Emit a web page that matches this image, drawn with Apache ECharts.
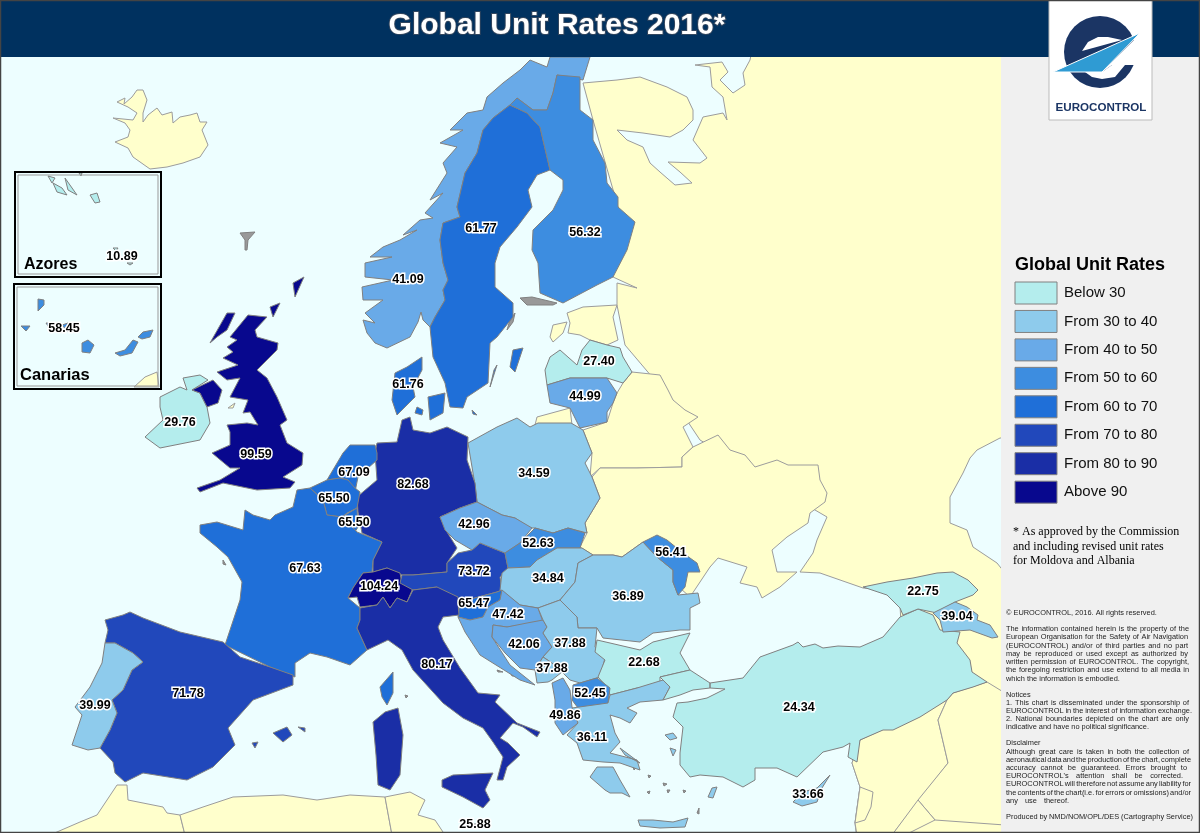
<!DOCTYPE html>
<html>
<head>
<meta charset="utf-8">
<title>Global Unit Rates 2016</title>
<script src="https://cdn.jsdelivr.net/npm/echarts@6/dist/echarts.min.js"></script>
<style>
  html, body { margin: 0; padding: 0; background: #edfeff; }
  #chart { width: 1200px; height: 833px; }
</style>
</head>
<body>
<div id="chart"></div>
<script>
// =====================
// data
// =====================

const zoneNames = [
  "Azores", "Canarias", "Ireland", "United Kingdom", "Norway", "Sweden", "Finland", "Denmark",
  "Latvia", "Lithuania", "Poland", "Germany", "Netherlands", "Belgium", "Luxembourg", "France",
  "Switzerland", "Austria", "Czech Republic", "Slovakia", "Hungary", "Romania", "Moldova",
  "Slovenia", "Croatia", "Bosnia", "Serbia", "Montenegro", "Bulgaria", "Macedonia", "Albania",
  "Greece", "Turkey", "Georgia", "Armenia", "Cyprus", "Italy", "Spain", "Portugal", "Malta"
];
const zoneRates = [
  10.89, 58.45, 29.76, 99.59, 41.09, 61.77, 56.32, 61.76,
  27.40, 44.99, 34.59, 82.68, 67.09, 65.50, 65.50, 67.63,
  104.24, 73.72, 42.96, 52.63, 34.84, 36.89, 56.41,
  65.47, 47.42, 42.06, 37.88, 37.88, 22.68, 52.45, 49.86,
  36.11, 24.34, 22.75, 39.04, 33.66, 80.17, 71.78, 39.99, 25.88
];

const bandLabels = ["Below 30", "From 30 to 40", "From 40 to 50", "From 50 to 60", "From 60 to 70", "From 70 to 80", "From 80 to 90", "Above 90"];
const bandLimits = [0, 30, 40, 50, 60, 70, 80, 90, 200];
const bandColors = ["#b4eded", "#8ecbec", "#69aae8", "#3d8de0", "#1f6fd8", "#2148bb", "#1a2ea6", "#08088e"];

const greyIslets = ["Faroe", "Aland", "Islets"];
const plainLand = ["Russia", "Belarus", "Ukraine", "Estonia", "Kaliningrad", "Syria", "Iraq", "Jordan", "Lebanon", "Iceland", "Isle of Man", "Morocco", "Algeria", "Tunisia", "Western Sahara"];

const footnoteLines = ["* As approved by the Commission", "and including revised unit rates", "for Moldova and Albania"];

// y, text, right edge when the line is justified
const noticeLines = [
  [613, "\u00a9 EUROCONTROL, 2016. All rights reserved.", 0],
  [629, "The information contained herein is the property of the", 1189],
  [637, "European Organisation for the Safety of Air Navigation", 1188],
  [646, "(EUROCONTROL) and/or of third parties and no part", 1188],
  [654, "may be reproduced or used except as authorized by", 1188],
  [662, "written permission of EUROCONTROL. The copyright,", 1189],
  [670, "the foregoing restriction and use extend to all media in", 1189],
  [679, "which the information is embodied.", 0],
  [695, "Notices", 0],
  [703, "1. This chart is disseminated under the sponsorship of", 1189],
  [711, "EUROCONTROL in the interest of information exchange.", 1192],
  [719, "2. National boundaries depicted on the chart are only", 1189],
  [727, "indicative and have no political significance.", 0],
  [743, "Disclaimer", 0],
  [752, "Although great care is taken in both the collection of", 1189],
  [760, "aeronautical data and the production of the chart, complete", 1191],
  [768, "accuracy cannot be guaranteed. Errors brought to", 1187],
  [776, "EUROCONTROL's attention shall be corrected.", 1183],
  [784, "EUROCONTROL will therefore not assume any liability for", 1191],
  [793, "the contents of the chart(i.e. for errors or omissions) and/or", 1191],
  [801, "any use thereof.", 1069],
  [817, "Produced by NMD/NOM/OPL/DES (Cartography Service)", 1193]
];

// =====================
// map outlines (map units, traced by hand), land without a rate comes first
// =====================

const outlines = [
  ["Russia", null, [[[583,83],[617,80],[640,77],[667,87],[687,97],[693,110],[693,120],[683,130],[670,137],[643,133],[617,130],[627,140],[643,147],[650,163],[660,172],[675,185],[692,183],[680,172],[668,162],[700,163],[707,158],[693,140],[703,117],[723,113],[727,120],[723,97],[712,87],[710,67],[695,65],[722,62],[728,72],[720,80],[733,93],[745,85],[743,73],[750,60],[752,50],[1005,50],[1005,438],[1000,438],[977,450],[970,458],[963,473],[950,497],[950,523],[967,530],[973,547],[997,563],[1005,573],[1005,840],[857,840],[855,823],[860,787],[852,763],[860,740],[905,700],[900,605],[885,590],[863,588],[820,573],[800,572],[813,553],[817,540],[827,517],[815,510],[700,440],[680,410],[625,345],[617,305],[617,283],[637,288],[613,277],[618,207],[593,120]]]],
  ["Belarus", null, [[[632,372],[660,375],[668,390],[673,400],[685,410],[698,417],[683,427],[693,447],[682,457],[682,467],[637,468],[600,468],[590,477],[592,453],[583,430],[607,422],[613,403],[617,393],[623,383]]]],
  ["Ukraine", null, [[[682,467],[682,457],[693,447],[718,435],[730,450],[745,455],[755,467],[777,460],[788,465],[818,465],[820,480],[827,493],[825,502],[810,513],[808,523],[787,537],[772,550],[777,572],[797,572],[780,587],[762,598],[757,587],[740,583],[747,567],[718,558],[710,567],[698,585],[690,597],[660,570],[643,542],[622,557],[613,555],[593,555],[580,547],[587,533],[585,523],[600,498],[592,477],[600,468],[637,468]]]],
  ["Estonia", null, [[[567,313],[583,307],[617,305],[613,317],[618,340],[607,345],[590,340],[580,335],[568,333],[570,323]], [[553,325],[567,322],[563,333],[553,342],[550,337]]]],
  ["Kaliningrad", null, [[[537,417],[570,408],[572,425],[535,425]]]],
  ["Syria", null, [[[947,700],[938,720],[948,763],[892,835],[857,835],[855,823],[860,787],[852,763],[860,740]]]],
  ["Iraq", null, [[[987,682],[1005,693],[1005,825],[935,820],[918,800],[948,763],[938,720],[947,700],[953,693]]]],
  ["Jordan", null, [[[918,800],[935,820],[905,835],[892,835]]]],
  ["Lebanon", null, [[[860,787],[873,792],[871,807],[865,820],[855,823]]]],
  ["Iceland", null, [[[117,102],[125,98],[124,104],[132,97],[137,90],[143,90],[147,100],[143,113],[143,122],[148,115],[157,108],[162,115],[172,112],[173,123],[180,117],[190,115],[197,113],[200,122],[207,122],[202,130],[208,145],[200,157],[183,163],[167,167],[150,169],[133,157],[128,148],[115,142],[128,137],[130,130],[125,123],[113,118],[133,120],[137,113],[128,107]]]],
  ["Faroe", null, [[[240,233],[255,232],[248,240],[247,250],[245,250],[245,240]]]],
  ["Aland", null, [[[520,298],[532,297],[557,303],[553,305],[527,305]], [[510,320],[515,313],[513,322],[507,330]]]],
  ["Islets", null, [[[648,775],[651,776],[649,778]], [[663,783],[667,784],[664,786]], [[647,792],[650,791],[649,794]], [[667,790],[670,790],[668,793]], [[683,790],[686,791],[684,793]], [[697,813],[699,808],[699,814]], [[633,767],[636,768],[634,770]], [[497,670],[503,672],[498,672]], [[510,672],[517,676],[512,676]], [[295,508],[298,506],[297,510]], [[238,530],[241,532],[238,533]], [[223,560],[226,565],[223,564]], [[405,695],[408,696],[406,698]], [[590,745],[593,748],[590,750]]]],
  ["Isle of Man", null, [[[228,408],[235,403],[233,408]]]],
  ["Morocco", null, [[[50,835],[80,822],[97,815],[117,785],[127,785],[128,800],[163,807],[167,813],[180,815],[185,835]]]],
  ["Algeria", null, [[[180,815],[203,807],[233,797],[283,795],[317,800],[350,795],[385,797],[392,835],[185,835]]]],
  ["Tunisia", null, [[[385,797],[410,792],[425,800],[418,815],[435,820],[445,835],[392,835]]]],
  ["Western Sahara", null, [[[134,387],[145,377],[157,372],[159,387]]]],

  ["Azores", [122, 257], [[[53,183],[62,188],[67,195],[57,192]], [[48,176],[55,178],[52,183]], [[65,178],[77,195],[68,190]], [[90,195],[97,193],[100,202],[95,203]], [[79,173],[82,173],[81,176]], [[113,248],[118,248],[116,251]], [[127,263],[133,263],[130,265]]]],
  ["Canarias", [64, 329], [[[38,299],[44,300],[44,305],[38,311]], [[21,326],[30,326],[26,331]], [[46,323],[50,323],[50,329]], [[62,325],[68,323],[68,332]], [[82,343],[88,340],[94,345],[90,353],[82,352]], [[115,353],[125,350],[133,340],[138,342],[132,353],[120,356]], [[138,337],[143,332],[153,330],[150,337],[142,339]]]],
  ["Ireland", [180, 423], [[[160,397],[180,387],[187,390],[183,378],[200,375],[208,380],[192,390],[200,393],[207,407],[210,423],[200,440],[160,448],[145,437],[163,420],[160,407]]]],
  ["United Kingdom", [256, 455], [[[248,315],[267,317],[255,330],[257,337],[278,343],[277,350],[257,370],[267,378],[277,397],[287,420],[280,425],[287,443],[303,453],[302,465],[283,477],[295,482],[290,488],[257,490],[223,483],[200,492],[197,488],[220,480],[240,468],[230,468],[212,453],[230,445],[230,432],[227,425],[247,423],[258,425],[250,412],[243,413],[248,400],[230,397],[240,378],[227,380],[217,372],[238,365],[223,358],[233,352],[227,347],[237,340],[230,337]], [[210,343],[227,313],[235,313],[227,330],[217,337]], [[270,307],[280,303],[273,317]], [[293,283],[304,277],[295,297]], [[192,390],[213,380],[222,390],[218,403],[207,407],[200,393]]]],
  ["Norway", [408, 280], [[[387,348],[375,343],[367,333],[363,320],[375,323],[365,313],[383,300],[363,300],[362,287],[393,280],[365,277],[365,263],[392,257],[370,257],[383,247],[400,240],[417,230],[403,235],[420,220],[433,218],[425,213],[443,193],[430,200],[447,173],[443,163],[457,147],[440,143],[463,130],[450,130],[467,113],[483,110],[487,97],[503,83],[520,70],[530,60],[547,67],[550,57],[590,57],[583,80],[557,75],[553,93],[547,110],[533,110],[517,98],[510,105],[493,118],[483,130],[477,153],[465,173],[457,207],[460,217],[443,223],[440,240],[443,263],[448,280],[443,290],[445,300],[435,317],[430,327],[423,320],[421,312],[418,322],[410,337]]]],
  ["Sweden", [481, 229], [[[510,105],[527,113],[540,127],[543,140],[550,170],[537,175],[528,190],[532,207],[517,227],[500,247],[495,263],[495,287],[513,303],[513,317],[497,337],[490,343],[488,383],[467,397],[463,408],[450,407],[445,383],[433,357],[430,327],[435,317],[445,300],[443,290],[448,280],[443,263],[440,240],[443,223],[460,217],[457,207],[465,173],[477,153],[483,130],[493,118]], [[513,350],[523,348],[515,372],[510,367]], [[497,365],[490,387],[494,370]]]],
  ["Finland", [585, 233], [[[557,75],[580,77],[580,93],[580,110],[593,120],[593,140],[605,163],[607,183],[618,197],[618,207],[635,222],[627,250],[613,277],[597,285],[563,303],[540,293],[538,263],[532,250],[533,230],[553,210],[563,190],[563,180],[550,170],[543,140],[540,127],[527,113],[510,105],[517,98],[533,110],[547,110],[553,93]]]],
  ["Denmark", [408, 385], [[[422,357],[422,370],[413,387],[415,397],[397,415],[392,400],[395,373],[407,367]], [[417,407],[423,410],[422,415],[415,413]], [[428,397],[445,393],[443,413],[430,420]], [[472,410],[477,415],[473,414]]]],
  ["Latvia", [599, 362], [[[560,350],[577,365],[582,350],[590,340],[607,345],[620,348],[623,357],[632,372],[623,383],[607,378],[592,378],[570,378],[547,385],[545,370],[550,357]]]],
  ["Lithuania", [585, 397], [[[547,385],[570,378],[592,378],[607,378],[617,393],[613,403],[607,412],[607,422],[580,428],[570,408],[550,403]]]],
  ["Poland", [534, 474], [[[468,443],[497,427],[517,418],[530,427],[538,423],[571,423],[583,430],[592,453],[585,463],[592,477],[600,498],[585,523],[587,533],[568,528],[553,533],[535,528],[530,528],[515,518],[502,515],[477,502],[475,485],[472,467]]]],
  ["Germany", [413, 485], [[[377,443],[397,442],[402,420],[410,417],[413,430],[430,433],[447,427],[468,437],[467,460],[475,483],[477,502],[460,508],[440,517],[447,532],[457,548],[447,563],[447,572],[413,575],[402,575],[387,568],[373,572],[373,560],[382,542],[362,533],[358,512],[357,497],[377,480],[375,453]]]],
  ["Netherlands", [354, 473], [[[327,480],[343,453],[350,445],[375,445],[377,453],[377,460],[358,477],[355,492],[348,480],[340,478]]]],
  ["Belgium", [334, 499], [[[310,488],[327,480],[340,478],[348,480],[355,488],[360,492],[357,508],[347,513],[342,517],[327,515],[323,500]]]],
  ["Luxembourg", [354, 523], [[[342,517],[357,508],[358,527],[355,532],[343,525]]]],
  ["France", [305, 569], [[[200,525],[217,522],[243,530],[245,510],[253,515],[270,520],[275,515],[293,507],[297,490],[310,488],[323,500],[327,515],[342,517],[357,532],[382,542],[373,560],[372,572],[363,573],[353,588],[348,598],[360,608],[360,620],[357,628],[367,650],[350,665],[327,657],[310,653],[295,663],[295,677],[270,667],[225,645],[240,600],[242,582],[228,557],[217,547],[200,533]], [[380,687],[393,672],[393,693],[387,705],[382,697]]]],
  ["Switzerland", [379, 587], [[[363,573],[373,572],[387,568],[400,573],[402,583],[413,588],[407,602],[397,598],[390,608],[383,597],[377,605],[360,607],[357,597],[348,598],[353,588]]]],
  ["Austria", [474, 572], [[[472,550],[480,543],[505,553],[508,568],[500,577],[502,590],[497,592],[460,602],[440,592],[437,587],[413,590],[400,583],[402,575],[413,575],[447,572],[447,563],[458,553]]]],
  ["Czech Republic", [474, 525], [[[440,517],[460,508],[477,502],[502,515],[515,518],[532,528],[520,543],[505,553],[480,543],[472,550],[455,540],[445,530]]]],
  ["Slovakia", [538, 544], [[[505,553],[520,543],[535,528],[553,533],[568,528],[585,533],[580,548],[557,548],[537,560],[530,567],[508,568]]]],
  ["Hungary", [548, 579], [[[582,548],[593,555],[578,563],[575,582],[560,600],[538,608],[520,605],[500,590],[502,573],[508,568],[530,567],[537,560],[557,548]]]],
  ["Romania", [628, 597], [[[593,555],[613,555],[622,557],[643,542],[657,557],[673,570],[673,582],[678,595],[698,593],[700,603],[690,608],[690,630],[680,630],[653,633],[640,642],[603,638],[597,628],[578,628],[577,617],[560,600],[575,582],[578,563]]]],
  ["Moldova", [671, 553], [[[643,542],[657,535],[667,540],[683,553],[697,563],[700,572],[688,572],[685,587],[678,595],[673,582],[673,570],[657,557]]]],
  ["Slovenia", [474, 604], [[[497,592],[502,590],[500,600],[488,607],[483,617],[470,620],[458,617],[460,602]]]],
  ["Croatia", [508, 615], [[[458,617],[470,620],[483,617],[488,607],[500,600],[502,590],[520,605],[538,608],[543,622],[507,627],[493,625],[492,637],[510,665],[535,685],[520,680],[480,655],[465,632]]]],
  ["Bosnia", [524, 645], [[[493,625],[507,627],[527,623],[543,620],[547,627],[543,633],[552,647],[543,657],[535,670],[520,668],[505,653],[492,637]]]],
  ["Serbia", [570, 644], [[[538,608],[560,600],[577,617],[578,628],[597,628],[595,647],[605,658],[600,677],[580,683],[570,680],[562,672],[552,663],[543,657],[552,647],[543,633],[547,627],[543,620]]]],
  ["Montenegro", [552, 669], [[[535,670],[543,657],[552,663],[562,672],[552,680],[548,682],[537,683]]]],
  ["Bulgaria", [644, 663], [[[597,640],[610,643],[640,650],[653,642],[690,633],[680,653],[690,670],[660,677],[660,688],[637,688],[610,695],[608,688],[598,677],[605,660],[595,652]]]],
  ["Macedonia", [590, 694], [[[573,685],[597,678],[610,688],[608,703],[593,708],[578,708],[572,700]]]],
  ["Albania", [565, 716], [[[552,683],[563,678],[570,690],[572,707],[578,723],[563,735],[555,723],[555,700]]]],
  ["Greece", [592, 738], [[[578,723],[572,708],[608,703],[610,695],[637,688],[663,680],[670,687],[663,700],[640,702],[627,708],[637,713],[630,723],[620,718],[610,715],[615,733],[620,742],[610,753],[637,760],[640,770],[620,763],[603,762],[583,760],[577,743],[567,735]], [[590,777],[597,767],[613,767],[620,780],[630,797],[622,793],[610,793],[605,790]], [[638,820],[653,820],[673,822],[688,818],[685,827],[660,828],[640,826]], [[665,735],[673,733],[677,738],[670,740]], [[620,748],[640,763],[625,755]], [[712,788],[717,787],[713,798],[708,797]], [[670,748],[676,750],[673,756]], [[682,767],[690,765],[688,770]]]],
  ["Turkey", [799, 708], [[[710,683],[743,678],[760,657],[793,645],[798,642],[803,647],[815,644],[823,648],[838,646],[860,647],[883,637],[900,617],[918,609],[933,615],[940,630],[960,632],[957,643],[970,660],[972,672],[987,682],[973,687],[953,693],[947,700],[920,717],[893,730],[883,730],[860,740],[857,762],[848,757],[850,743],[843,747],[823,752],[797,777],[777,768],[755,768],[755,780],[743,787],[723,777],[700,775],[690,777],[680,765],[680,753],[683,727],[673,717],[677,703],[688,702],[707,698],[725,689],[710,688]], [[690,670],[710,683],[710,688],[693,690],[680,695],[663,700],[670,687],[660,677]]]],
  ["Georgia", [923, 592], [[[863,587],[887,582],[913,578],[937,573],[953,572],[968,580],[978,590],[973,595],[955,602],[937,613],[918,609],[903,615],[900,608],[887,595]]]],
  ["Armenia", [957, 617], [[[955,602],[967,607],[978,615],[977,620],[990,625],[998,637],[992,638],[970,630],[943,632],[940,620],[933,613]]]],
  ["Cyprus", [808, 795], [[[793,802],[803,792],[817,788],[830,775],[822,788],[817,802],[802,806]]]],
  ["Italy", [437, 665], [[[360,608],[377,605],[383,597],[390,608],[397,598],[407,602],[413,590],[437,587],[458,597],[458,603],[459,615],[443,617],[438,627],[443,640],[460,668],[478,693],[500,695],[495,702],[517,723],[540,732],[537,737],[523,727],[513,723],[500,738],[508,743],[520,755],[507,767],[503,780],[497,780],[503,757],[493,742],[483,728],[463,718],[443,703],[413,670],[402,650],[388,640],[367,650],[357,628],[360,620]], [[442,780],[453,775],[493,773],[485,790],[490,800],[483,808],[463,797],[442,787]], [[373,722],[385,712],[398,708],[403,735],[400,775],[390,790],[378,785],[376,755]]]],
  ["Spain", [188, 694], [[[105,620],[123,615],[130,612],[143,618],[180,632],[223,642],[240,657],[270,667],[293,675],[293,685],[253,700],[228,728],[235,745],[213,767],[187,780],[143,773],[125,782],[115,773],[113,762],[100,748],[110,730],[117,713],[112,700],[123,690],[132,670],[143,662],[133,653],[115,643],[105,643],[108,630]], [[273,733],[287,727],[292,735],[283,742]], [[298,727],[305,728],[305,732]], [[252,743],[258,742],[255,748]]]],
  ["Portugal", [95, 706], [[[105,643],[115,643],[133,653],[143,662],[132,670],[123,690],[112,700],[117,713],[110,730],[100,748],[88,750],[72,745],[82,715],[75,707],[90,687],[102,663]]]],
  ["Malta", [475, 825], [[[474,824],[476,824],[476,826]]]]
];

// =====================
// map registration
// =====================

const europe = {
  type: "FeatureCollection",
  features: outlines.map(([name, labelAt, rings]) => ({
    type: "Feature",
    properties: labelAt ? { name: name, cp: labelAt } : { name: name },
    geometry: { type: "MultiPolygon", coordinates: rings.map((ring) => [ring]) }
  }))
};
echarts.registerMap("europe", europe);

// =====================
// page furniture
// =====================

const NOTICE_FONT = "7.4px 'Liberation Sans'";
const measure = document.createElement("canvas").getContext("2d");

function staticText(x, y, text, font, color, extra, z) {
  return {
    type: "text",
    z: z || 20,
    silent: true,
    style: Object.assign(
      { x: x, y: y, text: text, font: font, fill: color, verticalAlign: "middle" },
      extra || {}
    )
  };
}

// justified lines in the notice block are set word by word
function buildNoticeLine([y, line, rightEdge]) {
  if (!rightEdge) {
    return [staticText(1006, y, line, NOTICE_FONT, "#222")];
  }
  measure.font = NOTICE_FONT;
  const words = line.split(" ");
  const used = words.reduce((sum, word) => sum + measure.measureText(word).width, 0);
  const gap = (rightEdge - 1006 - used) / (words.length - 1);
  let x = 1006;
  return words.map((word) => {
    const item = staticText(x, y, word, NOTICE_FONT, "#222");
    x += measure.measureText(word).width + gap;
    return item;
  });
}

function buildInset(x, y, w, h) {
  return [
    { type: "rect", z: 20, silent: true, shape: { x: x, y: y, width: w, height: h }, style: { fill: "none", stroke: "#000", lineWidth: 2 } },
    { type: "rect", z: 20, silent: true, shape: { x: x + 3, y: y + 3, width: w - 6, height: h - 6 }, style: { fill: "none", stroke: "#999", lineWidth: 1 } }
  ];
}

function logoPolygon(points, z, style) {
  return { type: "polygon", z: z, silent: true, shape: { points: points }, style: style };
}

function buildLogo() {
  const navy = "#1b3564";
  const white = { fill: "#fff" };
  return [
    { type: "rect", z: 21, silent: true, shape: { x: 1049, y: 0, width: 103, height: 120 }, style: { fill: "#fff", stroke: "#bbb", lineWidth: 1 } },
    { type: "circle", z: 22, silent: true, shape: { cx: 1100, cy: 52, r: 36 }, style: { fill: navy } },
    logoPolygon([[1082, 51], [1088, 42], [1098, 37], [1108, 37], [1122, 40]], 23, white),
    logoPolygon([[1085, 72], [1092, 77], [1102, 79], [1115, 77], [1125, 65], [1112, 65], [1102, 72]], 23, white),
    logoPolygon([[1102, 72], [1141, 33], [1141, 65], [1112, 65]], 23, white),
    logoPolygon([[1053, 72], [1140, 33], [1102, 72]], 24, { fill: "#2f9bd3", stroke: "#fff", lineWidth: 1 }),
    staticText(1101, 108, "EUROCONTROL", "bold 11.6px 'Liberation Sans'", navy, { textAlign: "center" }, 24)
  ];
}

const furniture = [
  { type: "rect", z: 19, silent: true, shape: { x: 0, y: 0, width: 1200, height: 57 }, style: { fill: "#00315f" } },
  { type: "rect", z: 19, silent: true, shape: { x: 1001, y: 57, width: 199, height: 776 }, style: { fill: "#f0f0f0" } },
  staticText(557, 26, "Global Unit Rates 2016*", "bold 30px 'Liberation Sans'", "#fff", { textAlign: "center", stroke: "#33475f", lineWidth: 2, shadowBlur: 2, shadowColor: "#000" }),
  staticText(24, 265, "Azores", "bold 16px 'Liberation Sans'", "#000"),
  staticText(20, 375, "Canarias", "bold 16.5px 'Liberation Sans'", "#000"),
  staticText(1015, 265, "Global Unit Rates", "bold 18px 'Liberation Sans'", "#000")
]
  .concat(buildInset(15, 172, 146, 105), buildInset(14, 284, 147, 105), buildLogo())
  .concat(footnoteLines.map((line, i) => staticText(1013, 532 + i * 14.6, line, "12px 'Liberation Serif'", "#000")))
  .concat(noticeLines.flatMap(buildNoticeLine))
  .concat(bandLabels.map((label, i) => ({
    type: "rect", z: 26, silent: true,
    shape: { x: 1015, y: 282 + i * 28.45, width: 42, height: 22 },
    style: { fill: "none", stroke: "#808080", lineWidth: 1 }
  })))
  .concat([{ type: "rect", z: 30, silent: true, shape: { x: 0.5, y: 0.5, width: 1199, height: 832 }, style: { fill: "none", stroke: "#444", lineWidth: 1.5 } }]);

// =====================
// chart
// =====================

const chart = echarts.init(document.getElementById("chart"));

chart.setOption({
  animation: false,
  backgroundColor: "#edfeff",
  graphic: { elements: furniture },
  visualMap: {
    type: "piecewise",
    orient: "vertical",
    inverse: true,
    align: "left",
    left: 1015,
    top: 282,
    padding: 0,
    itemWidth: 42,
    itemHeight: 22,
    itemGap: 6.45,
    itemSymbol: "rect",
    selectedMode: false,
    z: 25,
    textGap: 7,
    textStyle: { color: "#111", fontFamily: "Liberation Sans", fontSize: 15 },
    pieces: bandLabels.map((label, i) => ({
      min: bandLimits[i],
      max: bandLimits[i + 1],
      label: label,
      color: bandColors[i]
    }))
  },
  series: [
    {
      type: "map",
      map: "europe",
      z: 5,
      silent: true,
      selectedMode: false,
      left: 0,
      top: 0,
      width: 1200,
      height: 833,
      boundingCoords: [[0, 0], [1200, 833]],
      projection: { project: (p) => p, unproject: (p) => p },
      itemStyle: { areaColor: "#ffffcc", borderColor: "#808080", borderWidth: 1 },
      emphasis: { disabled: true },
      label: {
        show: true,
        color: "#000",
        fontFamily: "Liberation Sans",
        fontWeight: "bold",
        fontSize: 12.5,
        textBorderColor: "#fff",
        textBorderWidth: 3,
        formatter: (p) => (isNaN(p.value) ? "" : p.value.toFixed(2))
      },
      data: zoneNames
        .map((name, i) => ({ name: name, value: zoneRates[i] }))
        .concat(greyIslets.map((name) => ({ name: name, itemStyle: { areaColor: "#999999" } })))
        .concat(plainLand.map((name) => ({ name: name, itemStyle: { borderColor: "#9c9c9c" } })))
    }
  ]
});
</script>
</body>
</html>
